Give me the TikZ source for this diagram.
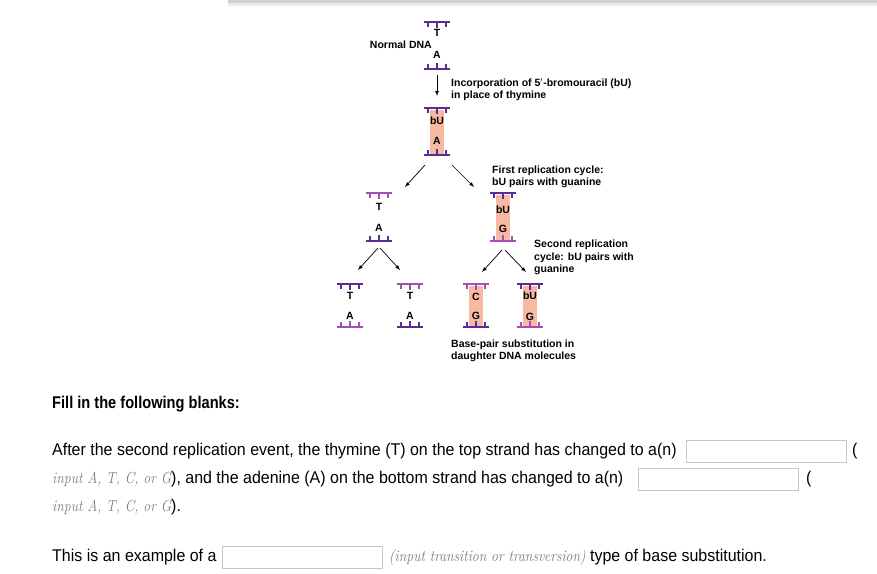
\documentclass[tikz,border=0pt]{standalone}
\usepackage{fontspec}
\setmainfont{Liberation Sans}
\usepackage{graphicx}
\newfontfamily\serifit{Latin Modern Roman}
\definecolor{dkp}{HTML}{5A2D96}
\definecolor{ltp}{HTML}{A34FB3}
\definecolor{pnk}{HTML}{F8B9A2}
\definecolor{gtx}{HTML}{7A7A7A}
\newcommand{\TopS}[3]{\draw[#3,line width=2.4pt] (#1-13,#2)--(#1+13,#2);
 \draw[#3,line width=1.4pt] (#1-9,#2)--++(0,5) (#1+9,#2)--++(0,5) (#1,#2)--++(0,6);}
\newcommand{\BotS}[3]{\draw[#3,line width=2.4pt] (#1-13,#2)--(#1+13,#2);
 \draw[#3,line width=1.4pt] (#1-9,#2)--++(0,-5) (#1+9,#2)--++(0,-5) (#1,#2)--++(0,-6);}
\newcommand{\Pink}[3]{\fill[pnk] (#1-7,#2) rectangle (#1+7,#3);}
\newcommand{\Sc}[1]{\scalebox{0.94}[1]{#1}}
\newcommand{\It}[1]{{\color{gtx}\serifit\itshape\fontsize{16}{18}\selectfont\scalebox{0.86}[1]{#1}}}
\begin{document}
\begin{tikzpicture}[x=1pt,y=-1pt,
 lab/.style={font=\fontsize{10.5}{11}\selectfont\bfseries,inner sep=0pt},
 capt/.style={font=\fontsize{10.5}{12.4}\selectfont\bfseries,align=left,anchor=west,inner sep=0pt},
 arr/.style={-latex,line width=0.7pt},
 q/.style={font=\fontsize{17}{19}\selectfont,anchor=west,inner sep=0pt},
 box/.style={draw=black!22,line width=0.6pt,fill=white}]
\useasboundingbox (0,0) rectangle (877,573);
\fill[black!18] (228,0) rectangle (877,3);
\fill[black!8] (228,3) rectangle (877,6);
% normal DNA
\TopS{437}{22}{dkp}\BotS{437}{69}{dkp}
\node[lab] (t1) at (437,33) {T};
\node[lab] (a1) at (437,55) {A};
\node[capt,anchor=east] (nd) at (432,45) {Normal DNA};
\draw[arr] (437,75)--(437,96);
\node[capt] (inc) at (451,89.5) {Incorporation of 5$'$-bromouracil (bU)\\in place of thymine};
% bU:A
\Pink{437}{110}{155}
\TopS{437}{108}{dkp}\BotS{437}{155}{dkp}
\node[lab] (b2) at (437,121) {bU};
\node[lab] (a2) at (437,141) {A};
\draw[arr] (425,165)--(405,187);
\draw[arr] (452,165)--(474,187);
\node[capt] (frc) at (492,177) {First replication cycle:\\bU pairs with guanine};
% left gen1
\TopS{379}{193}{ltp}\BotS{379}{241}{dkp}
\node[lab] (t3) at (379,207) {T};
\node[lab] (a3) at (379,228) {A};
% right gen1
\Pink{503}{195}{241}
\TopS{503}{193}{dkp}\BotS{503}{241}{ltp}
\node[lab] (b4) at (503,210) {bU};
\node[lab] (g4) at (503,229) {G};
\node[capt] (src) at (534,257.5) {Second replication\\cycle: bU pairs with\\guanine};
\draw[arr] (378,248)--(358,270);
\draw[arr] (380,248)--(400,270);
\draw[arr] (502,250)--(482,272);
\draw[arr] (505,250)--(526,272);
% bottom row
\TopS{350}{284}{dkp}\BotS{350}{327}{ltp}
\node[lab] (t5) at (350,296) {T};\node[lab] (a5) at (350,316) {A};
\TopS{410}{284}{ltp}\BotS{410}{327}{dkp}
\node[lab] (t6) at (410,296) {T};\node[lab] (a6) at (410,316) {A};
\Pink{476}{286}{327}\Pink{530}{286}{327}
\TopS{476}{284}{ltp}\BotS{476}{327}{dkp}
\node[lab] (c7) at (476,297) {C};\node[lab] (g7) at (476,316) {G};
\TopS{530}{284}{dkp}\BotS{530}{327}{ltp}
\node[lab] (b8) at (530,296) {bU};\node[lab] (g8) at (530,317) {G};
\node[capt] (bps) at (451,351) {Base-pair substitution in\\daughter DNA molecules};
% question text
\node[q,font=\fontsize{17}{19}\selectfont\bfseries] (fill) at (52,404) {\scalebox{0.86}[1]{Fill in the following blanks:}};
\node[q] (l1) at (52,451) {\Sc{After the second replication event, the thymine (T) on the top strand has changed to a(n)}};
\draw[box] (686,440) rectangle (846,462);
\node[q] (p1) at (852,451) {\Sc{(}};
\node[q] (l2) at (52,479) {\It{input A, T, C, or G}\Sc{), and the adenine (A) on the bottom strand has changed to a(n)}};
\draw[box] (638,468) rectangle (798,490);
\node[q] (p2) at (806,479) {\Sc{(}};
\node[q] (l3) at (52,507) {\It{input A, T, C, or G}\Sc{).}};
\node[q] (l4) at (52,557) {\Sc{This is an example of a}};
\draw[box] (222,546) rectangle (382,568);
\node[q] (l5) at (389,557) {\It{(input transition or transversion)}\Sc{ type of base substitution.}};
\end{tikzpicture}
\end{document}
